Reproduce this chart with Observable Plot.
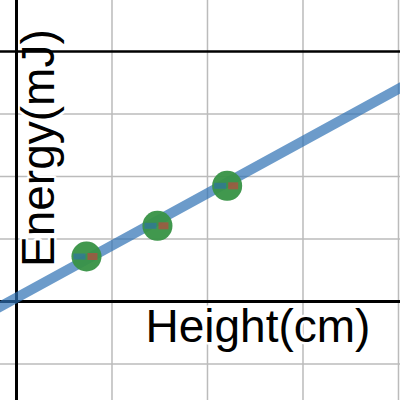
<!DOCTYPE html>
<html>
<head>
<meta charset="utf-8">
<script src="https://cdn.jsdelivr.net/npm/d3@7"></script>
<script src="https://cdn.jsdelivr.net/npm/@observablehq/plot@0.6"></script>
<style>
  html, body { margin: 0; padding: 0; background: #fff; }
  #chart svg { display: block; }
</style>
</head>
<body>
<div id="chart"></div>
<script>
// Data (grid units)
const heights = [0.733, 1.476, 2.206];
const energies = [0.72, 1.211, 1.851];
const fitX = [-0.3, 4.2];
const fitY = [-0.191, 3.571];
const gridXTicks = [1, 2, 3, 4];
const gridYTicks = [-1, 1, 2, 3];
const limitY = [4];
const xLabel = "Height(cm)";
const yLabel = "Energy(mJ)";

const points = heights.map((h, i) => ({h, e: energies[i]}));
const fit = fitX.map((x, i) => ({x, y: fitY[i]}));

const bar = (w, h, off) => ({
  draw(ctx) { ctx.rect(off, -h / 2, w, h); }
});

const chart = Plot.plot({
  width: 400,
  height: 400,
  margin: 0,
  x: {domain: [-0.1675, 4.021], axis: null},
  y: {domain: [-1.584, 4.816], axis: null},
  style: {background: "#fff", overflow: "hidden"},
  marks: [
    Plot.ruleX(gridXTicks, {stroke: "#bbbbbb", strokeWidth: 1.5}),
    Plot.ruleY(gridYTicks, {stroke: "#bbbbbb", strokeWidth: 1.5}),
    Plot.text([xLabel], {x: 1.351, y: -0.651, text: d => d, textAnchor: "start", lineAnchor: "bottom",
      fontSize: 46, fontFamily: "Liberation Sans, Arial, sans-serif", fill: "#000", stroke: "#fff", strokeWidth: 5, paintOrder: "stroke"}),
    Plot.text([yLabel], {x: 0.393, y: 0.552, text: d => d, rotate: -90, textAnchor: "start", lineAnchor: "bottom",
      fontSize: 46, fontFamily: "Liberation Sans, Arial, sans-serif", fill: "#000", stroke: "#fff", strokeWidth: 5, paintOrder: "stroke"}),
    Plot.ruleY(limitY, {stroke: "#000", strokeWidth: 2.5}),
    Plot.ruleX([0], {stroke: "#000", strokeWidth: 3}),
    Plot.ruleY([0], {stroke: "#000", strokeWidth: 3}),
    Plot.line(fit, {x: "x", y: "y", stroke: "#2d70b3", strokeWidth: 10, strokeOpacity: 0.7}),
    Plot.dot(points, {x: "h", y: "e", r: 15, fill: "#3a9548", fillOpacity: 0.95, stroke: "none"}),
    Plot.dot(points, {x: "h", y: "e", symbol: bar(12, 6, -13), r: 1, fill: "#2d70b3", fillOpacity: 0.7, stroke: "none"}),
    Plot.dot(points, {x: "h", y: "e", symbol: bar(10, 7, 1), r: 1, fill: "#c74440", fillOpacity: 0.75, stroke: "none"}),
    Plot.dot(points, {x: "h", y: "e", r: 15, fill: "#388c46", fillOpacity: 0.15, stroke: "none"})
  ]
});
document.getElementById("chart").appendChild(chart);
</script>
</body>
</html>
